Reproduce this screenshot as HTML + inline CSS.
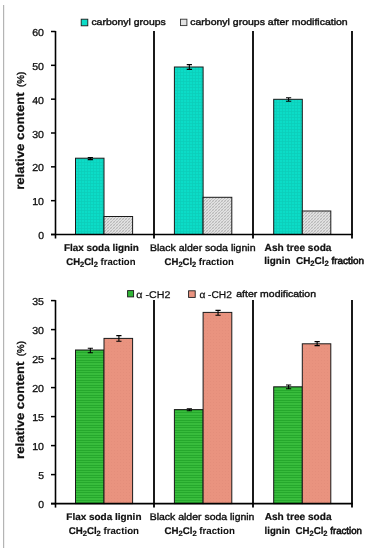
<!DOCTYPE html>
<html><head><meta charset="utf-8"><title>chart</title>
<style>html,body{margin:0;padding:0;background:#fff;} svg{display:block;} text{font-family:"Liberation Sans", Arial, sans-serif;white-space:pre;text-rendering:geometricPrecision;}</style>
</head><body>
<svg width="383" height="550" viewBox="0 0 383 550">
<defs>
 <pattern id="cy" width="3" height="3" patternUnits="userSpaceOnUse">
  <rect width="3" height="3" fill="#0cdcc7"/>
  <rect width="3" height="0.7" fill="#0bcdb9"/>
  <rect width="0.7" height="3" fill="#0bcdb9"/>
 </pattern>
 <pattern id="gr" width="3" height="3" patternUnits="userSpaceOnUse">
  <rect width="3" height="3" fill="#e2e2e2"/>
  <path d="M-1,1 l2,-2 M0,3 l3,-3 M2,4 l2,-2" stroke="#a9a9a9" stroke-width="0.75"/>
  <path d="M-1,2 l2,2 M0,0 l3,3 M2,-1 l2,2" stroke="#cbcbcb" stroke-width="0.6"/>
 </pattern>
 <pattern id="gn" width="5" height="5" patternUnits="userSpaceOnUse">
  <rect width="5" height="5" fill="#38bc3c"/>
  <rect y="0" width="5" height="1" fill="#26a82d"/>
  <rect y="2" width="5" height="1" fill="#26a82d"/>
 </pattern>
 <pattern id="pk" width="3" height="3" patternUnits="userSpaceOnUse">
  <rect width="3" height="3" fill="#e9937f"/>
  <rect width="1" height="1" fill="#e48e7b"/>
 </pattern>
</defs>
<rect x="0" y="0" width="383" height="550" fill="#fff"/>
<rect x="3" y="5" width="1.2" height="543" fill="#b4b4b4"/>
<rect x="75.5" y="158.2" width="28.50" height="76.30" fill="url(#cy)" stroke="#1a1a1a" stroke-width="1"/>
<rect x="104.0" y="216.5" width="28.60" height="18.00" fill="url(#gr)" stroke="#1a1a1a" stroke-width="1"/>
<rect x="174.4" y="67.0" width="28.70" height="167.50" fill="url(#cy)" stroke="#1a1a1a" stroke-width="1"/>
<rect x="203.1" y="197.3" width="28.70" height="37.20" fill="url(#gr)" stroke="#1a1a1a" stroke-width="1"/>
<rect x="273.7" y="99.3" width="28.60" height="135.20" fill="url(#cy)" stroke="#1a1a1a" stroke-width="1"/>
<rect x="302.3" y="211.0" width="28.50" height="23.50" fill="url(#gr)" stroke="#1a1a1a" stroke-width="1"/>
<path d="M87.75,157.6 h5.2 M90.35,157.6 V159.6 M87.75,159.6 h5.2" stroke="#000" stroke-width="1.1" fill="none"/>
<path d="M186.75,64.6 h5.2 M189.35,64.6 V69.4 M186.75,69.4 h5.2" stroke="#000" stroke-width="1.1" fill="none"/>
<path d="M286.00,97.7 h5.2 M288.60,97.7 V101.2 M286.00,101.2 h5.2" stroke="#000" stroke-width="1.1" fill="none"/>
<path d="M55.5,31.0 V238.5" stroke="#000" stroke-width="1.6" fill="none"/>
<path d="M154,31.0 V238.5" stroke="#000" stroke-width="1.8" fill="none"/>
<path d="M253,31.0 V238.5" stroke="#000" stroke-width="1.8" fill="none"/>
<path d="M352,31.0 V238.5" stroke="#000" stroke-width="1.8" fill="none"/>
<path d="M51,234.5 H352.9" stroke="#000" stroke-width="1.6" fill="none"/>
<path d="M51,31.50 H55.5" stroke="#000" stroke-width="1.5" fill="none"/>
<text x="44" y="36.00" font-size="10.1" text-anchor="end" fill="#111" stroke="#111" stroke-width="0.3" textLength="11.8" lengthAdjust="spacingAndGlyphs">60</text>
<path d="M51,65.33 H55.5" stroke="#000" stroke-width="1.5" fill="none"/>
<text x="44" y="69.83" font-size="10.1" text-anchor="end" fill="#111" stroke="#111" stroke-width="0.3" textLength="11.8" lengthAdjust="spacingAndGlyphs">50</text>
<path d="M51,99.17 H55.5" stroke="#000" stroke-width="1.5" fill="none"/>
<text x="44" y="103.67" font-size="10.1" text-anchor="end" fill="#111" stroke="#111" stroke-width="0.3" textLength="11.8" lengthAdjust="spacingAndGlyphs">40</text>
<path d="M51,133.00 H55.5" stroke="#000" stroke-width="1.5" fill="none"/>
<text x="44" y="137.50" font-size="10.1" text-anchor="end" fill="#111" stroke="#111" stroke-width="0.3" textLength="11.8" lengthAdjust="spacingAndGlyphs">30</text>
<path d="M51,166.83 H55.5" stroke="#000" stroke-width="1.5" fill="none"/>
<text x="44" y="171.33" font-size="10.1" text-anchor="end" fill="#111" stroke="#111" stroke-width="0.3" textLength="11.8" lengthAdjust="spacingAndGlyphs">20</text>
<path d="M51,200.67 H55.5" stroke="#000" stroke-width="1.5" fill="none"/>
<text x="44" y="205.17" font-size="10.1" text-anchor="end" fill="#111" stroke="#111" stroke-width="0.3" textLength="11.8" lengthAdjust="spacingAndGlyphs">10</text>
<path d="M51,234.50 H55.5" stroke="#000" stroke-width="1.5" fill="none"/>
<text x="44" y="239.00" font-size="10.1" text-anchor="end" fill="#111" stroke="#111" stroke-width="0.3" textLength="5.8" lengthAdjust="spacingAndGlyphs">0</text>
<rect x="75.5" y="350.0" width="28.50" height="153.60" fill="url(#gn)" stroke="#1a1a1a" stroke-width="1"/>
<rect x="104.0" y="338.4" width="28.60" height="165.20" fill="url(#pk)" stroke="#1a1a1a" stroke-width="1"/>
<rect x="174.4" y="409.6" width="28.70" height="94.00" fill="url(#gn)" stroke="#1a1a1a" stroke-width="1"/>
<rect x="203.1" y="312.4" width="28.70" height="191.20" fill="url(#pk)" stroke="#1a1a1a" stroke-width="1"/>
<rect x="273.7" y="386.8" width="28.60" height="116.80" fill="url(#gn)" stroke="#1a1a1a" stroke-width="1"/>
<rect x="302.3" y="343.8" width="28.50" height="159.80" fill="url(#pk)" stroke="#1a1a1a" stroke-width="1"/>
<path d="M87.75,348.3 h5.2 M90.35,348.3 V352.7 M87.75,352.7 h5.2" stroke="#000" stroke-width="1.1" fill="none"/>
<path d="M116.30,335.6 h5.2 M118.90,335.6 V341.3 M116.30,341.3 h5.2" stroke="#000" stroke-width="1.1" fill="none"/>
<path d="M186.75,408.7 h5.2 M189.35,408.7 V410.8 M186.75,410.8 h5.2" stroke="#000" stroke-width="1.1" fill="none"/>
<path d="M215.45,310.4 h5.2 M218.05,310.4 V315.2 M215.45,315.2 h5.2" stroke="#000" stroke-width="1.1" fill="none"/>
<path d="M286.00,385.0 h5.2 M288.60,385.0 V388.8 M286.00,388.8 h5.2" stroke="#000" stroke-width="1.1" fill="none"/>
<path d="M314.55,341.6 h5.2 M317.15,341.6 V345.6 M314.55,345.6 h5.2" stroke="#000" stroke-width="1.1" fill="none"/>
<path d="M55.5,300.1 V507.6" stroke="#000" stroke-width="1.6" fill="none"/>
<path d="M154,300.1 V507.6" stroke="#000" stroke-width="1.8" fill="none"/>
<path d="M253,300.1 V507.6" stroke="#000" stroke-width="1.8" fill="none"/>
<path d="M352,300.1 V507.6" stroke="#000" stroke-width="1.8" fill="none"/>
<path d="M51,503.6 H352.9" stroke="#000" stroke-width="1.6" fill="none"/>
<path d="M51,300.60 H55.5" stroke="#000" stroke-width="1.5" fill="none"/>
<text x="44" y="305.10" font-size="10.1" text-anchor="end" fill="#111" stroke="#111" stroke-width="0.3" textLength="11.8" lengthAdjust="spacingAndGlyphs">35</text>
<path d="M51,329.60 H55.5" stroke="#000" stroke-width="1.5" fill="none"/>
<text x="44" y="334.10" font-size="10.1" text-anchor="end" fill="#111" stroke="#111" stroke-width="0.3" textLength="11.8" lengthAdjust="spacingAndGlyphs">30</text>
<path d="M51,358.60 H55.5" stroke="#000" stroke-width="1.5" fill="none"/>
<text x="44" y="363.10" font-size="10.1" text-anchor="end" fill="#111" stroke="#111" stroke-width="0.3" textLength="11.8" lengthAdjust="spacingAndGlyphs">25</text>
<path d="M51,387.60 H55.5" stroke="#000" stroke-width="1.5" fill="none"/>
<text x="44" y="392.10" font-size="10.1" text-anchor="end" fill="#111" stroke="#111" stroke-width="0.3" textLength="11.8" lengthAdjust="spacingAndGlyphs">20</text>
<path d="M51,416.60 H55.5" stroke="#000" stroke-width="1.5" fill="none"/>
<text x="44" y="421.10" font-size="10.1" text-anchor="end" fill="#111" stroke="#111" stroke-width="0.3" textLength="11.8" lengthAdjust="spacingAndGlyphs">15</text>
<path d="M51,445.60 H55.5" stroke="#000" stroke-width="1.5" fill="none"/>
<text x="44" y="450.10" font-size="10.1" text-anchor="end" fill="#111" stroke="#111" stroke-width="0.3" textLength="11.8" lengthAdjust="spacingAndGlyphs">10</text>
<path d="M51,474.60 H55.5" stroke="#000" stroke-width="1.5" fill="none"/>
<text x="44" y="479.10" font-size="10.1" text-anchor="end" fill="#111" stroke="#111" stroke-width="0.3" textLength="5.8" lengthAdjust="spacingAndGlyphs">5</text>
<path d="M51,503.60 H55.5" stroke="#000" stroke-width="1.5" fill="none"/>
<text x="44" y="508.10" font-size="10.1" text-anchor="end" fill="#111" stroke="#111" stroke-width="0.3" textLength="5.8" lengthAdjust="spacingAndGlyphs">0</text>
<rect x="81.2" y="19.2" width="6.6" height="6.6" fill="#0cdcc7" stroke="#1a1a1a" stroke-width="0.9"/>
<rect x="180.5" y="19.2" width="6.4" height="6.4" fill="#e2e2e2" stroke="#333" stroke-width="0.9"/>
<rect x="127.6" y="290.6" width="6" height="6.3" fill="#30b536" stroke="#1a1a1a" stroke-width="0.9"/>
<rect x="188.6" y="290.8" width="6.6" height="6.6" fill="#ea9481" stroke="#1a1a1a" stroke-width="0.9"/>
<text transform="translate(23.8,189.87) rotate(-90)" font-size="12" font-weight="bold" fill="#111" stroke="#111" stroke-width="0.2" textLength="97.64" lengthAdjust="spacingAndGlyphs">relative content</text>
<text transform="translate(23.8,87.04) rotate(-90)" font-size="9.8" font-weight="normal" fill="#111" stroke="#111" stroke-width="0.4" textLength="15.2" lengthAdjust="spacingAndGlyphs">(%)</text>
<text transform="translate(23.8,458.92) rotate(-90)" font-size="12" font-weight="bold" fill="#111" stroke="#111" stroke-width="0.2" textLength="97.34" lengthAdjust="spacingAndGlyphs">relative content</text>
<text transform="translate(23.8,356.2) rotate(-90)" font-size="9.8" font-weight="normal" fill="#111" stroke="#111" stroke-width="0.4" textLength="15.1" lengthAdjust="spacingAndGlyphs">(%)</text>
<text x="91.4" y="25.2" font-size="8.9" font-weight="normal" fill="#111" stroke="#111" stroke-width="0.38" textLength="74.36" lengthAdjust="spacingAndGlyphs">carbonyl groups</text>
<text x="190.29" y="25.2" font-size="8.9" font-weight="normal" fill="#111" stroke="#111" stroke-width="0.38" textLength="157.41" lengthAdjust="spacingAndGlyphs">carbonyl groups after modification</text>
<text x="63.93" y="250.6" font-size="9.8" font-weight="bold" fill="#111" stroke="#111" stroke-width="0.22" textLength="75.01" lengthAdjust="spacingAndGlyphs">Flax soda lignin</text>
<text x="66.29" y="265.0" font-size="9.7" font-weight="bold" fill="#111" stroke="#111" stroke-width="0.22" textLength="69.22" lengthAdjust="spacingAndGlyphs">CH<tspan font-size="7.57" dy="2.33">2</tspan><tspan dy="-2.33">Cl</tspan><tspan font-size="7.57" dy="2.33">2</tspan><tspan dy="-2.33" stroke-width="0.05"> fraction</tspan></text>
<text x="149.96" y="251.2" font-size="9.6" font-weight="normal" fill="#111" stroke="#111" stroke-width="0.38" textLength="105.61" lengthAdjust="spacingAndGlyphs">Black alder soda lignin</text>
<text x="164.61" y="264.9" font-size="9.7" font-weight="bold" fill="#111" stroke="#111" stroke-width="0.22" textLength="69.19" lengthAdjust="spacingAndGlyphs">CH<tspan font-size="7.57" dy="2.33">2</tspan><tspan dy="-2.33">Cl</tspan><tspan font-size="7.57" dy="2.33">2</tspan><tspan dy="-2.33" stroke-width="0.05"> fraction</tspan></text>
<text x="264.62" y="250.5" font-size="10.2" font-weight="bold" fill="#111" stroke="#111" stroke-width="0.22" textLength="66.81" lengthAdjust="spacingAndGlyphs">Ash tree soda</text>
<text x="264.17" y="263.9" font-size="9.9" font-weight="bold" fill="#111" stroke="#111" stroke-width="0.22" textLength="99.8" lengthAdjust="spacingAndGlyphs">lignin  CH<tspan font-size="7.72" dy="2.38">2</tspan><tspan dy="-2.38">Cl</tspan><tspan font-size="7.72" dy="2.38">2</tspan><tspan dy="-2.38" font-weight="normal" stroke-width="0.6"> fraction</tspan></text>
<text x="136.32" y="297.7" font-size="9.8" font-weight="normal" fill="#111" stroke="#111" stroke-width="0.25" textLength="34.06" lengthAdjust="spacingAndGlyphs">α -CH2</text>
<text x="199.4" y="297.7" font-size="9.8" font-weight="normal" fill="#111" stroke="#111" stroke-width="0.25" textLength="32.51" lengthAdjust="spacingAndGlyphs">α -CH2</text>
<text x="236.27" y="297.2" font-size="9.2" font-weight="normal" fill="#111" stroke="#111" stroke-width="0.38" textLength="79.73" lengthAdjust="spacingAndGlyphs">after modification</text>
<text x="66.33" y="519.7" font-size="9.6" font-weight="bold" fill="#111" stroke="#111" stroke-width="0.22" textLength="75.13" lengthAdjust="spacingAndGlyphs">Flax soda lignin</text>
<text x="68.69" y="533.8" font-size="9.7" font-weight="bold" fill="#111" stroke="#111" stroke-width="0.22" textLength="70.3" lengthAdjust="spacingAndGlyphs">CH<tspan font-size="7.57" dy="2.33">2</tspan><tspan dy="-2.33">Cl</tspan><tspan font-size="7.57" dy="2.33">2</tspan><tspan dy="-2.33" stroke-width="0.05"> fraction</tspan></text>
<text x="149.72" y="520.3" font-size="9.6" font-weight="normal" fill="#111" stroke="#111" stroke-width="0.38" textLength="104.73" lengthAdjust="spacingAndGlyphs">Black alder soda lignin</text>
<text x="164.56" y="534.0" font-size="9.7" font-weight="bold" fill="#111" stroke="#111" stroke-width="0.22" textLength="70.25" lengthAdjust="spacingAndGlyphs">CH<tspan font-size="7.57" dy="2.33">2</tspan><tspan dy="-2.33">Cl</tspan><tspan font-size="7.57" dy="2.33">2</tspan><tspan dy="-2.33" stroke-width="0.05"> fraction</tspan></text>
<text x="264.69" y="519.9" font-size="10.1" font-weight="bold" fill="#111" stroke="#111" stroke-width="0.22" textLength="66.84" lengthAdjust="spacingAndGlyphs">Ash tree soda</text>
<text x="264.56" y="533.7" font-size="9.9" font-weight="bold" fill="#111" stroke="#111" stroke-width="0.22" textLength="97.31" lengthAdjust="spacingAndGlyphs">lignin  CH<tspan font-size="7.72" dy="2.38">2</tspan><tspan dy="-2.38">Cl</tspan><tspan font-size="7.72" dy="2.38">2</tspan><tspan dy="-2.38" font-weight="normal" stroke-width="0.6"> fraction</tspan></text>
</svg>
</body></html>
